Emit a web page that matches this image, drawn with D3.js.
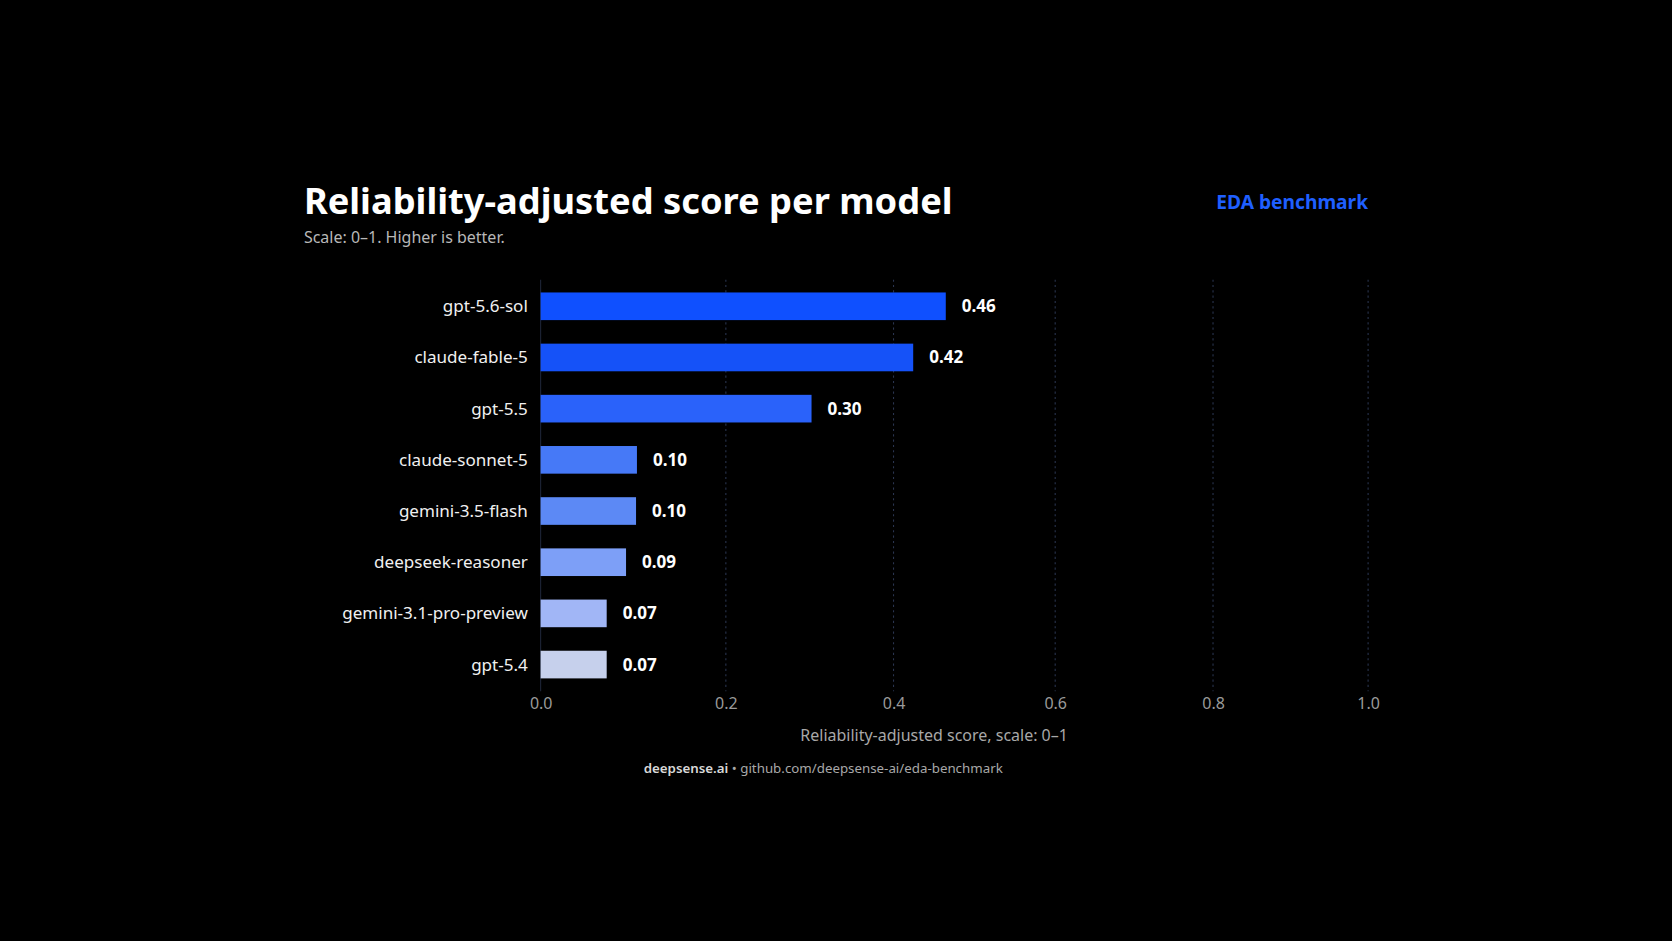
<!DOCTYPE html>
<html><head><meta charset="utf-8">
<script src="https://cdn.jsdelivr.net/npm/d3@7"></script>
<style>html,body{margin:0;background:#000;}svg{display:block;font-family:"Noto Sans",sans-serif;}</style>
</head><body>
<script>
const models = ["gpt-5.6-sol","claude-fable-5","gpt-5.5","claude-sonnet-5","gemini-3.5-flash","deepseek-reasoner","gemini-3.1-pro-preview","gpt-5.4"];
const scores = [0.464,0.424,0.301,0.099,0.098,0.087,0.066,0.066];
const scoreLabels = ["0.46","0.42","0.30","0.10","0.10","0.09","0.07","0.07"];
const colors = ["#0f50ff","#1552f8","#2a62fa","#4679f7","#5c89f5","#7d9ff7","#a1b6f6","#c6d0ec"];
const ticks = [0,0.2,0.4,0.6,0.8,1.0];

const svg = d3.select("body").append("svg").attr("width",1672).attr("height",941).attr("viewBox","0 0 1568 882");
svg.append("rect").attr("width",1568).attr("height",882).attr("fill","#000");
const x = d3.scalePow().exponent(0.93).domain([0,1]).range([507,1283]);
const y = d3.scaleBand().domain(models).range([263,647]).paddingInner(0.46).paddingOuter(0.23);

svg.append("text").attr("x",285).attr("y",200).attr("fill","#fff").attr("font-size",34).attr("font-weight",700).text("Reliability-adjusted score per model");
svg.append("text").attr("x",285).attr("y",228).attr("fill","#b8b8b8").attr("font-size",15).text("Scale: 0–1. Higher is better.");
svg.append("text").attr("x",1283).attr("y",196).attr("text-anchor","end").attr("fill","#1f5fff").attr("font-size",18).attr("font-weight",700).text("EDA benchmark");

ticks.slice(1).forEach(t=>svg.append("line").attr("x1",x(t)).attr("x2",x(t)).attr("y1",262).attr("y2",648).attr("stroke","#2a3550").attr("stroke-dasharray","2,3"));
svg.append("line").attr("x1",507).attr("x2",507).attr("y1",262).attr("y2",648).attr("stroke","#1e2538");

svg.selectAll(".bar").data(models).enter().append("rect")
  .attr("x",x(0)).attr("y",d=>y(d)).attr("height",y.bandwidth())
  .attr("width",(d,i)=>x(scores[i])-x(0)).attr("fill",(d,i)=>colors[i]);
svg.selectAll(".val").data(models).enter().append("text")
  .attr("x",(d,i)=>x(scores[i])+15).attr("y",d=>y(d)+y.bandwidth()/2).attr("dy","0.35em")
  .attr("fill","#fff").attr("font-size",16).attr("font-weight",700).text((d,i)=>scoreLabels[i]);
svg.selectAll(".lab").data(models).enter().append("text")
  .attr("x",495).attr("y",d=>y(d)+y.bandwidth()/2).attr("dy","0.35em").attr("text-anchor","end")
  .attr("fill","#f0f0f0").attr("font-size",16).text(d=>d);

const ax = svg.append("g").attr("transform","translate(0,648)").call(d3.axisBottom(x).tickValues(ticks).tickFormat(d3.format(".1f")).tickSize(0).tickPadding(6));
ax.select(".domain").remove();
ax.selectAll("text").attr("fill","#9a9a9a").attr("font-size",15).attr("font-family","Noto Sans");
svg.append("text").attr("x",876).attr("y",695).attr("text-anchor","middle").attr("fill","#a8a8a8").attr("font-size",15).text("Reliability-adjusted score, scale: 0–1");
const f = svg.append("text").attr("x",772).attr("y",725).attr("text-anchor","middle").attr("font-size",12.5).attr("fill","#a8a8a8");
f.append("tspan").attr("fill","#d8d8d8").attr("font-weight",600).text("deepsense.ai");
f.append("tspan").text("  •  github.com/deepsense-ai/eda-benchmark");
</script>
</body></html>
